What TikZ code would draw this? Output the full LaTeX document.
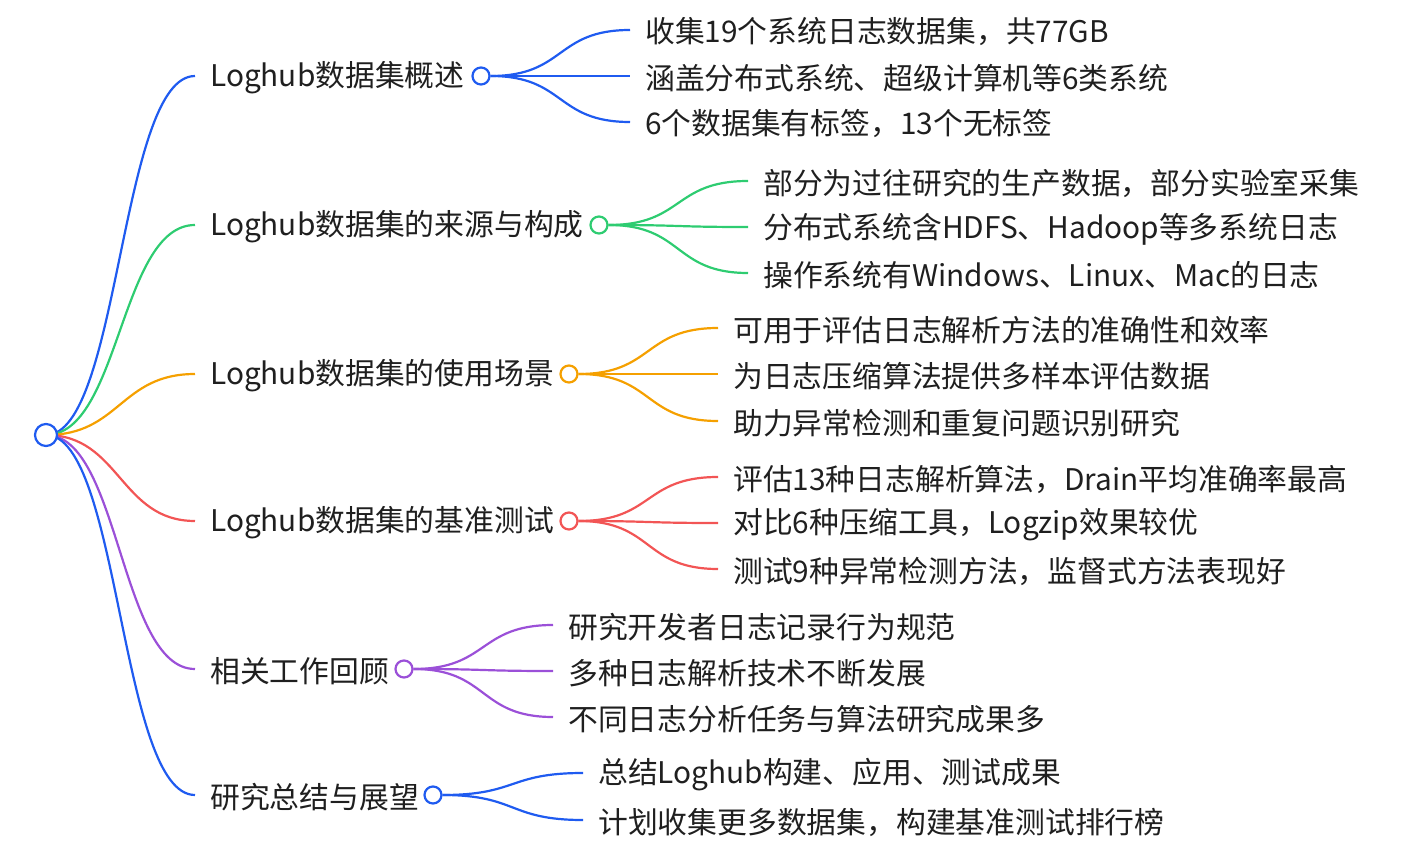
\documentclass[tikz,border=0pt]{standalone}
\usepackage{fontspec}
\setmainfont{Noto Sans CJK SC}
\begin{document}
\begin{tikzpicture}[x=1pt,y=-1pt,
 lbl/.style={anchor=west,inner sep=0pt,font=\fontsize{29.8}{32}\selectfont,text=black!88},
 dot/.style={circle,draw=#1,line width=2.2pt,fill=white,minimum size=17pt,inner sep=0pt},
 ln/.style={draw=#1,line width=2.2pt}]
\useasboundingbox (0,0) rectangle (1409,845);
\definecolor{cb}{HTML}{1F5BF0}\definecolor{cg}{HTML}{2ECC71}\definecolor{co}{HTML}{F5A000}
\definecolor{cr}{HTML}{F25555}\definecolor{cp}{HTML}{9B50D8}
\coordinate (root) at (46,435);
\def\branch#1#2#3#4#5#6{%
 \coordinate (s#6) at (195,#2);
 \draw[ln=#1] (root) .. controls (120,435) and (120,#2) .. (s#6);
 \node[dot=#1] (c#6) at (#3,#2) {};
 \node[lbl] at (210,#2+2) {#5};
}
\branch{cb}{76}{481}{}{Loghub数据集概述}{1}
\branch{cg}{225}{599}{}{Loghub数据集的来源与构成}{2}
\branch{co}{374}{569}{}{Loghub数据集的使用场景}{3}
\branch{cr}{521}{569}{}{Loghub数据集的基准测试}{4}
\branch{cp}{669}{404}{}{相关工作回顾}{5}
\branch{cb}{795}{433}{}{研究总结与展望}{6}
\node[dot=cb,minimum size=22pt] (r) at (root) {};
\def\kid#1#2#3#4#5#6{%
 \coordinate (k) at (#4,#5);
 \draw[ln=#1] (#2.east) .. controls ([xshift=75]#2.east) and (#3,#5) .. (k);
 \node[lbl] at (#4+15,#5+2) {#6};
}
\kid{cb}{c1}{555}{630}{30}{收集19个系统日志数据集，共77GB}
\kid{cb}{c1}{555}{630}{76}{涵盖分布式系统、超级计算机等6类系统}
\kid{cb}{c1}{555}{630}{122}{6个数据集有标签，13个无标签}
\kid{cg}{c2}{673}{748}{181}{部分为过往研究的生产数据，部分实验室采集}
\kid{cg}{c2}{673}{748}{227}{分布式系统含HDFS、Hadoop等多系统日志}
\kid{cg}{c2}{673}{748}{273}{操作系统有Windows、Linux、Mac的日志}
\kid{co}{c3}{643}{718}{328}{可用于评估日志解析方法的准确性和效率}
\kid{co}{c3}{643}{718}{374}{为日志压缩算法提供多样本评估数据}
\kid{co}{c3}{643}{718}{421}{助力异常检测和重复问题识别研究}
\kid{cr}{c4}{643}{718}{477}{评估13种日志解析算法，Drain平均准确率最高}
\kid{cr}{c4}{643}{718}{523}{对比6种压缩工具，Logzip效果较优}
\kid{cr}{c4}{643}{718}{569}{测试9种异常检测方法，监督式方法表现好}
\kid{cp}{c5}{478}{553}{625}{研究开发者日志记录行为规范}
\kid{cp}{c5}{478}{553}{671}{多种日志解析技术不断发展}
\kid{cp}{c5}{478}{553}{717}{不同日志分析任务与算法研究成果多}
\kid{cb}{c6}{508}{583}{773}{总结Loghub构建、应用、测试成果}
\kid{cb}{c6}{508}{583}{820}{计划收集更多数据集，构建基准测试排行榜}
\end{tikzpicture}
\end{document}
